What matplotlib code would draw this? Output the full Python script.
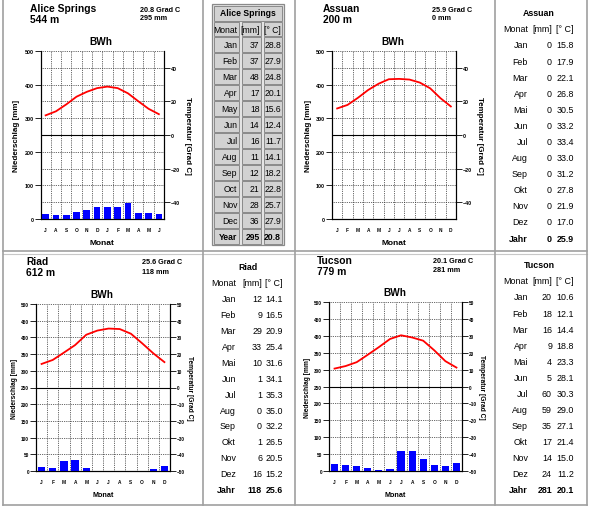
import matplotlib
matplotlib.use("Agg")
import matplotlib.pyplot as plt
from matplotlib.patches import Rectangle
from matplotlib.lines import Line2D

plt.rcParams['font.family'] = ['Liberation Sans', 'DejaVu Sans']

# ---------------- data ----------------
months_de = ["Jan", "Feb", "Mar", "Apr", "Mai", "Jun", "Jul", "Aug", "Sep", "Okt", "Nov", "Dez"]
months_en = ["Jan", "Feb", "Mar", "Apr", "May", "Jun", "Jul", "Aug", "Sep", "Oct", "Nov", "Dec"]
letters_n = ["J", "F", "M", "A", "M", "J", "J", "A", "S", "O", "N", "D"]
letters_s = ["J", "A", "S", "O", "N", "D", "J", "F", "M", "A", "M", "J"]

alice_prec = [37, 37, 48, 17, 18, 14, 16, 11, 12, 21, 28, 36]
alice_temp = [28.8, 27.9, 24.8, 20.1, 15.6, 12.4, 11.7, 14.1, 18.2, 22.8, 25.7, 27.9]
assuan_prec = [0, 0, 0, 0, 0, 0, 0, 0, 0, 0, 0, 0]
assuan_temp = [15.8, 17.9, 22.1, 26.8, 30.5, 33.2, 33.4, 33.0, 31.2, 27.8, 21.9, 17.0]
riad_prec = [12, 9, 29, 33, 10, 1, 1, 0, 0, 1, 6, 16]
riad_temp = [14.1, 16.5, 20.9, 25.4, 31.6, 34.1, 35.3, 35.0, 32.2, 26.5, 20.5, 15.2]
tucson_prec = [20, 18, 16, 9, 4, 5, 60, 59, 35, 17, 14, 24]
tucson_temp = [10.6, 12.1, 14.4, 18.8, 23.3, 28.1, 30.3, 29.0, 27.1, 21.4, 15.0, 11.2]

stations = {
    "alice": dict(name="Alice Springs", elev="544 m", tmean="20.8", psum="295"),
    "assuan": dict(name="Assuan", elev="200 m", tmean="25.9", psum="0"),
    "riad": dict(name="Riad", elev="612 m", tmean="25.6", psum="118"),
    "tucson": dict(name="Tucson", elev="779 m", tmean="20.1", psum="281"),
}
climate_class = "BWh"

W, H = 589, 510
fig = plt.figure(figsize=(W / 100, H / 100), dpi=100)
fig.patch.set_facecolor("white")


def fx(x):
    return x / W


def fy(y):
    return 1 - y / H


def txt(x, y, s, size=6.5, weight="normal", ha="left", va="center", **kw):
    fig.text(fx(x), fy(y), s, fontsize=size, fontweight=weight, ha=ha, va=va, **kw)


def hline(y, x0, x1, color="#a0a0a0", lw=1.2):
    fig.add_artist(Line2D([fx(x0), fx(x1)], [fy(y), fy(y)], color=color, lw=lw, transform=fig.transFigure))


def vline(x, y0, y1, color="#a0a0a0", lw=1.2):
    fig.add_artist(Line2D([fx(x), fx(x)], [fy(y0), fy(y1)], color=color, lw=lw, transform=fig.transFigure))


# cell borders
hline(252, 3, 587)
hline(254.5, 3, 587, color="#c8c8c8", lw=0.8)
hline(506, 3, 587)
for xv in (3, 203, 294.5, 494.5, 587):
    vline(xv, 0, 506)


def chart(box, st, prec, temp, letters, small, head):
    l, t, r, b = box
    info = stations[st]
    hx, hy, gx = head
    txt(hx, hy, info["name"], size=7.4, weight="bold")
    txt(hx, hy + 11, info["elev"], size=7.4, weight="bold")
    txt(gx, hy + 1, info["tmean"] + " Grad C", size=5.2, weight="bold")
    txt(gx, hy + 10, info["psum"] + " mm", size=5.2, weight="bold")
    txt((l + r) / 2 - 1, t - 10, climate_class, size=7.2, weight="bold", ha="center")

    ax = fig.add_axes([fx(l), fy(b), fx(r) - fx(l), fy(t) - fy(b)])
    ax.set_xlim(-0.5, 11.5)
    ax.set_ylim(0, 500)
    x = list(range(12))
    ax.bar(x, prec, width=0.65, color="#0000ff", zorder=3)
    for xv in [i + 0.5 for i in range(11)]:
        ax.axvline(xv, color="#333333", lw=0.6, ls=(0, (1, 1.2)), zorder=1)
    for yv in range(50, 501, 50):
        if yv == 250:
            ax.axhline(yv, color="black", lw=0.8, zorder=2)
        else:
            ax.axhline(yv, color="#333333", lw=0.6, ls=(0, (1, 1.2)), zorder=1)
    for sp in ("left", "right", "bottom"):
        ax.spines[sp].set_linewidth(0.8)
    ax.spines["top"].set_visible(False)
    ax.set_xticks(x)
    ax.set_xticklabels(letters, fontsize=3.4, fontweight="bold")
    ax.tick_params(axis="x", length=0, pad=6)
    if small:
        ax.set_yticks(range(0, 501, 50))
        lsize = 3.4
    else:
        ax.set_yticks(range(0, 501, 100))
        lsize = 3.9
    ax.tick_params(axis="y", length=4, width=0.6, labelsize=lsize, pad=1)
    for lab in ax.get_yticklabels():
        lab.set_fontweight("bold")
    ax.set_xlabel("Monat", fontsize=6.0 if not small else 5.2, fontweight="bold", labelpad=5)
    ax.set_ylabel("Niederschlag [mm]", fontsize=5.8 if not small else 4.8, fontweight="bold",
                  labelpad=3 if not small else 2)

    ax2 = ax.twinx()
    ax2.set_ylim(-50, 50)
    ax2.plot(x, temp, color="#ff0000", lw=1.3, zorder=4)
    ax2.spines["top"].set_visible(False)
    ax2.spines["right"].set_linewidth(0.8)
    if small:
        ax2.set_yticks(range(-50, 51, 10))
    else:
        ax2.set_yticks([-40, -20, 0, 20, 40])
    ax2.tick_params(axis="y", length=4, width=0.6, labelsize=lsize, pad=1)
    for lab in ax2.get_yticklabels():
        lab.set_fontweight("bold")
    ax2.set_ylabel("Temperatur [Grad C]", rotation=270, fontsize=5.8 if not small else 4.8,
                   fontweight="bold", labelpad=8 if not small else 6)
    return ax


chart((40.5, 52, 164, 220), "alice", alice_prec[6:] + alice_prec[:6],
      alice_temp[6:] + alice_temp[:6], letters_s, False, (30, 9, 140))
chart((332, 52, 456, 220), "assuan", assuan_prec, assuan_temp, letters_n, False, (323, 9, 432))
chart((36, 305, 170, 472), "riad", riad_prec, riad_temp, letters_n, True, (26, 262, 142))
chart((329, 303, 462, 472), "tucson", tucson_prec, tucson_temp, letters_n, True, (317, 261, 433))


# ---------- Alice Springs table (gray, bordered) ----------
def rect(x0, y0, x1, y1, fc, ec, lw=0.8):
    fig.add_artist(Rectangle((fx(x0), fy(y1)), fx(x1) - fx(x0), fy(y0) - fy(y1),
                             facecolor=fc, edgecolor=ec, lw=lw, transform=fig.transFigure))


tx0, tx1 = 212, 283.5
ty0 = 5
cols = [212, 240, 262, 283.5]
rect(tx0, ty0, tx1, 246, "#e4e4e4", "#8a8a8a", 0.9)
# title row
rect(tx0 + 1.5, ty0 + 1.5, tx1 - 1.5, 21.5, "#d2d2d2", "#8a8a8a", 0.7)
txt((tx0 + tx1) / 2, 14, stations["alice"]["name"], size=6.2, weight="bold", ha="center")
row_tops = [22.5] + [38 + 16.0 * i for i in range(13)]
row_bots = [37] + [38 + 16.0 * (i + 1) - 1 for i in range(13)]
header = ["Monat", "[mm]", "[° C]"]
alice_rows = [[m, str(p), f"{t:.1f}"] for m, p, t in zip(months_en, alice_prec, alice_temp)]
alice_rows.append(["Year", stations["alice"]["psum"], stations["alice"]["tmean"]])
all_rows = [header] + alice_rows
for ri, row in enumerate(all_rows):
    y0, y1 = row_tops[ri], row_bots[ri]
    for ci in range(3):
        rect(cols[ci] + 1.5, y0, cols[ci + 1] - 1.5, y1, "#d2d2d2", "#8a8a8a", 0.7)
        bold = ri == len(all_rows) - 1
        s = row[ci]
        txt(cols[ci + 1] - 2.5, (y0 + y1) / 2 + 0.5, s, size=6.2,
            weight="bold" if bold else "normal", ha="right")


# ---------- plain tables ----------
def plain_table(title, tx, ty, hy, jy, rights, rows_m, prec, temp, tot_p, tot_t):
    txt(tx, ty, title, size=6.4, weight="bold", ha="center")
    for s, xr in zip(header, rights):
        txt(xr, hy, s, size=6.4, ha="right")
    step = (jy - (hy + 16)) / 12.0
    for i in range(12):
        yy = hy + 16 + step * i
        txt(rights[0], yy, rows_m[i], size=6.4, ha="right")
        txt(rights[1], yy, str(prec[i]), size=6.4, ha="right")
        txt(rights[2], yy, f"{temp[i]:.1f}", size=6.4, ha="right")
    txt(rights[0], jy, "Jahr", size=6.4, weight="bold", ha="right")
    txt(rights[1], jy, tot_p, size=6.4, weight="bold", ha="right")
    txt(rights[2], jy, tot_t, size=6.4, weight="bold", ha="right")


plain_table("Assuan", 539, 14, 30, 239, (528, 552, 574), months_de, assuan_prec, assuan_temp,
            stations["assuan"]["psum"], stations["assuan"]["tmean"])
plain_table("Riad", 248, 267, 283, 491, (236, 262, 283), months_de, riad_prec, riad_temp,
            stations["riad"]["psum"], stations["riad"]["tmean"])
plain_table("Tucson", 539, 266, 282, 491, (528, 552, 574), months_de, tucson_prec, tucson_temp,
            stations["tucson"]["psum"], stations["tucson"]["tmean"])

fig.savefig("out.png", dpi=100)
